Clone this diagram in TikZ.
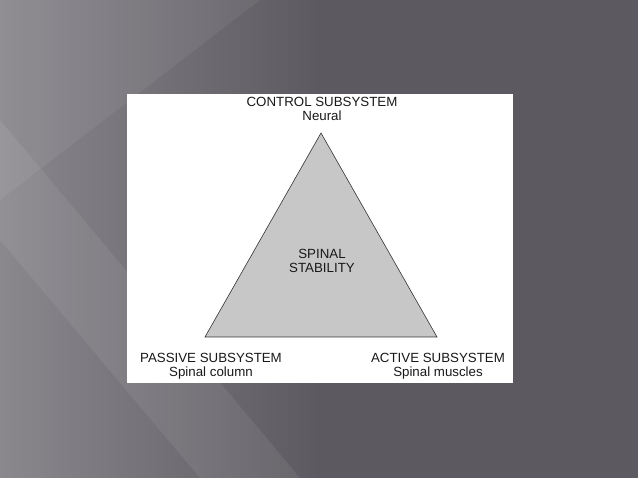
\documentclass[tikz,border=0pt]{standalone}
\usepackage{fontspec}
\setmainfont{Liberation Sans}
\definecolor{bgl}{HTML}{8A878D}
\definecolor{bgd}{HTML}{5C5960}
\begin{document}
\begin{tikzpicture}[x=1pt,y=-1pt,
  lab/.style={align=center,font=\fontsize{13.3}{14}\selectfont,text=black!90,inner sep=0pt}]
\useasboundingbox (0,0) rectangle (638,478);
\shade[left color=bgl,right color=bgd,middle color=bgd] (0,0) rectangle (638,478);
\fill[white,opacity=0.07] (0,120) -- (300,478) -- (200,478) -- (0,240) -- cycle;
\fill[white,opacity=0.06] (0,0) -- (260,0) -- (0,200) -- cycle;
\fill[white] (127,94) rectangle (513,383);
\coordinate (apex) at (321,133);
\coordinate (bl) at (205,337);
\coordinate (br) at (437,337);
\draw[fill=black!22,draw=black!80,line width=0.6pt] (apex) -- (bl) -- (br) -- cycle;
\node[lab] (top) at (322,109) {CONTROL SUBSYSTEM\\Neural};
\node[lab] (mid) at (322,261) {SPINAL\\STABILITY};
\node[lab] (left) at (211,366) {PASSIVE SUBSYSTEM\\Spinal column};
\node[lab] (right) at (438,366) {ACTIVE SUBSYSTEM\\Spinal muscles};
\end{tikzpicture}
\end{document}
